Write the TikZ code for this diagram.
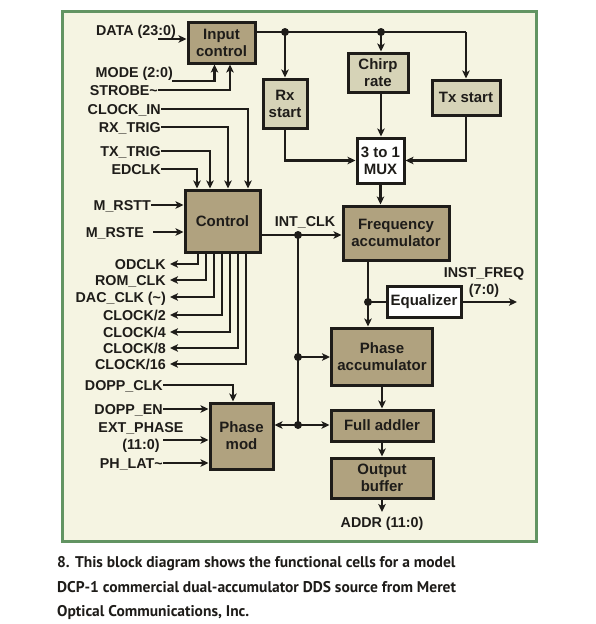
\documentclass[tikz,border=0pt]{standalone}
\usepackage{fontspec}
\setmainfont{Liberation Sans}
\newfontfamily\capfont{PT Sans}
\usetikzlibrary{arrows.meta}
\definecolor{bgc}{RGB}{245,244,226}
\definecolor{frm}{RGB}{98,148,98}
\definecolor{tanc}{RGB}{176,162,127}
\definecolor{ltc}{RGB}{214,211,183}
\definecolor{ink}{RGB}{30,28,25}
\begin{document}
\begin{tikzpicture}[x=1pt,y=-1pt,
  box/.style={draw=ink, line width=3pt, inner sep=0pt, align=center, font=\bfseries\fontsize{15}{17}\selectfont, text=ink},
  tanbox/.style={box, fill=tanc},
  ltbox/.style={box, fill=ltc},
  whbox/.style={box, fill=white},
  lbl/.style={inner sep=0pt, font=\bfseries\fontsize{14.3}{16}\selectfont, text=ink, text height=10pt, text depth=0pt},
  mlbl/.style={inner sep=0pt, font=\bfseries\fontsize{14.3}{17}\selectfont, text=ink, align=center},
  capl/.style={inner sep=0pt, font=\capfont\bfseries\fontsize{15.5}{18}\selectfont, text=ink},
  wire/.style={draw=ink, line width=2.6pt},
  arr/.style={wire, -{Stealth[length=8pt,width=7.5pt,inset=2pt]}},
  dot/.style={circle, fill=ink, inner sep=0pt, minimum size=8pt}
]
\useasboundingbox (0,0) rectangle (595,624);
\fill[white] (0,0) rectangle (595,624);
\draw[frm, line width=3pt, fill=bgc] (62,11) rectangle (536,541);

% blocks
\node[tanbox, minimum width=67pt, minimum height=41pt] (inp) at (221.5,42.5) {Input\\control};
\node[tanbox, minimum width=75pt, minimum height=62pt] (ctrl) at (222.5,221) {Control};
\node[ltbox, minimum width=44pt, minimum height=49pt] (rx) at (285,103.5) {Rx\\start};
\node[ltbox, minimum width=60pt, minimum height=39pt] (chirp) at (378,72.5) {Chirp\\rate};
\node[ltbox, minimum width=68pt, minimum height=35pt] (tx) at (466,97.5) {Tx start};
\node[whbox, minimum width=47pt, minimum height=45pt] (mux) at (380.5,160.5) {3 to 1\\MUX};
\node[tanbox, minimum width=106pt, minimum height=54pt] (freq) at (396,233) {Frequency\\accumulator};
\node[whbox, minimum width=74pt, minimum height=31pt] (eq) at (424,302) {Equalizer};
\node[tanbox, minimum width=101pt, minimum height=57pt] (phacc) at (382,356.5) {Phase\\accumulator};
\node[tanbox, minimum width=102pt, minimum height=31pt] (fadd) at (382,425.5) {Full addler};
\node[tanbox, minimum width=102pt, minimum height=40pt] (obuf) at (382,478) {Output\\buffer};
\node[tanbox, minimum width=63pt, minimum height=66pt] (pmod) at (241.5,436) {Phase\\mod};

% junction dots
\node[dot] (d1) at (285,32) {};
\node[dot] (d2) at (381,32) {};
\node[dot] (d3) at (368,302) {};
\node[dot] (d4) at (298,235) {};
\node[dot] (d5) at (298,357) {};
\node[dot] (d6) at (298,425) {};
\coordinate (tc) at (466,32);

% top bus
\draw[wire] (inp.east |- d1) -- (d1.center) -- (d2.center) -- (tc);
\draw[arr] (tc) -- (tx.north);
\draw[arr] (d1.center) -- (rx.north);
\draw[arr] (d2.center) -- (d2 |- chirp.north);
\draw[arr] (d2 |- chirp.south) -- (d2 |- mux.north);
\draw[arr] (rx.south) |- (mux.west);
\draw[arr] (tx.south) |- (mux.east);
\draw[arr] (mux.south) -- (freq.north -| mux.south);

% INT_CLK
\node[lbl] (intclk) at (305,221) {INT\_CLK};
\draw[arr] (ctrl.east |- d4) -- (freq.west |- d4);
\draw[wire] (d4.center) -- (d6.center);
\draw[arr] (d5.center) -- (phacc.west |- d5);
\draw[arr] (d6.center) -- (fadd.west |- d6);
\draw[arr] (d6.center) -- (pmod.east |- d6);

% frequency path
\draw[arr] (d3 |- freq.south) -- (d3 |- phacc.north);
\draw[wire] (d3.center) -- (eq.west);
\coordinate (fo) at (517,302);
\draw[arr] (eq.east) -- (fo);
\node[mlbl] (instf) at (484,282) {INST\_FREQ\\(7:0)};
\draw[arr] (phacc.south) -- (phacc.south |- fadd.north);
\draw[arr] (fadd.south) -- (obuf.north);
\node[lbl, anchor=north] (addr) at (382,517) {ADDR (11:0)};
\draw[arr] (obuf.south) -- ([yshift=5pt]addr.north);

% inputs to input control
\node[lbl, anchor=east] (data) at (176,30) {DATA (23:0)};
\coordinate (ds) at (158,39);
\draw[arr] (ds) -- (inp.west |- ds);
\node[lbl, anchor=east] (mode) at (173,72) {MODE (2:0)};
\coordinate (ms) at (172,81);
\draw[arr] (ms) -| ([xshift=-7pt]inp.south);
\node[lbl, anchor=east] (strobe) at (158,90) {STROBE\textasciitilde};
\draw[arr] (strobe.east) -| ([xshift=8.5pt]inp.south);

% inputs to control
\node[lbl, anchor=east] (clkin) at (161,109) {CLOCK\_IN};
\draw[arr] (clkin.east) -| ([xshift=25.5pt]ctrl.north);
\node[lbl, anchor=east] (rxtrig) at (161,127) {RX\_TRIG};
\draw[arr] (rxtrig.east) -| ([xshift=5.5pt]ctrl.north);
\node[lbl, anchor=east] (txtrig) at (161,151) {TX\_TRIG};
\draw[arr] (txtrig.east) -| ([xshift=-12.5pt]ctrl.north);
\node[lbl, anchor=east] (edclk) at (161,169) {EDCLK};
\draw[arr] (edclk.east) -| ([xshift=-25.5pt]ctrl.north);
\node[lbl, anchor=east] (mrstt) at (151,205) {M\_RSTT};
\draw[arr] (mrstt.east) -- (ctrl.west |- mrstt.east);
\node[lbl, anchor=east] (mrste) at (144,232) {M\_RSTE};
\draw[arr, shorten <=9pt] (mrste.east) -- (ctrl.west |- mrste.east);

% control outputs
\node[lbl, anchor=east] (o1) at (166,264) {ODCLK};
\node[lbl, anchor=east] (o2) at (166,280) {ROM\_CLK};
\node[lbl, anchor=east] (o3) at (166,297) {DAC\_CLK (\textasciitilde)};
\node[lbl, anchor=east] (o4) at (166,315) {CLOCK/2};
\node[lbl, anchor=east] (o5) at (166,332) {CLOCK/4};
\node[lbl, anchor=east] (o6) at (166,348) {CLOCK/8};
\node[lbl, anchor=east] (o7) at (166,364) {CLOCK/16};
\draw[arr] ([xshift=-24.5pt]ctrl.south) |- ([xshift=4pt]o1.east);
\draw[arr] ([xshift=-16.5pt]ctrl.south) |- ([xshift=4pt]o2.east);
\draw[arr] ([xshift=-8.5pt]ctrl.south) |- ([xshift=4pt]o3.east);
\draw[arr] ([xshift=-0.5pt]ctrl.south) |- ([xshift=4pt]o4.east);
\draw[arr] ([xshift=7.5pt]ctrl.south) |- ([xshift=4pt]o5.east);
\draw[arr] ([xshift=15.5pt]ctrl.south) |- ([xshift=4pt]o6.east);
\draw[arr] ([xshift=23.5pt]ctrl.south) |- ([xshift=4pt]o7.east);

% phase mod inputs
\node[lbl, anchor=east] (doppclk) at (163,385) {DOPP\_CLK};
\draw[arr] (doppclk.east) -| ([xshift=-8.5pt]pmod.north);
\node[lbl, anchor=east] (doppen) at (163,409) {DOPP\_EN};
\draw[arr] (doppen.east) -- (pmod.west |- doppen.east);
\node[mlbl] (extph) at (141,437) {EXT\_PHASE\\(11:0)};
\coordinate (es) at (163,440);
\draw[arr] (es) -- (pmod.west |- es);
\node[lbl, anchor=east] (phlat) at (163,463) {PH\_LAT\textasciitilde};
\draw[arr] (phlat.east) -- (pmod.west |- phlat.east);

% caption
\node[capl, anchor=base west] (c1) at (57,567) {8. This block diagram shows the functional cells for a model};
\node[capl, anchor=base west] (c2) at (57,592) {DCP-1 commercial dual-accumulator DDS source from Meret};
\node[capl, anchor=base west] (c3) at (57,616) {Optical Communications, Inc.};
\end{tikzpicture}
\end{document}
